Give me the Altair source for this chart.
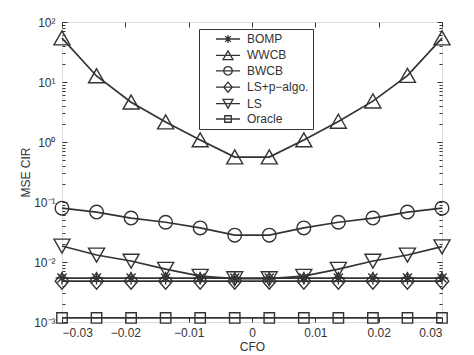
import altair as alt
import pandas as pd

series = ["BOMP", "WWCB", "BWCB", "LS+p−algo.", "LS", "Oracle"]
cfo = [-0.03, -0.024545, -0.019091, -0.013636, -0.008182, -0.002727,
       0.002727, 0.008182, 0.013636, 0.019091, 0.024545, 0.03]
bomp = [0.0054] * 12
wwcb = [54, 12.6, 4.6, 2.15, 1.08, 0.56, 0.56, 1.08, 2.2, 4.8, 12.8, 54]
bwcb = [0.079, 0.068, 0.054, 0.046, 0.037, 0.028, 0.028, 0.037, 0.046, 0.054, 0.068, 0.079]
lsp = [0.0048] * 12
ls = [0.0185, 0.0131, 0.0104, 0.0076, 0.0058, 0.0053, 0.0053, 0.0058, 0.0076, 0.0104, 0.0131, 0.018]
oracle = [0.00117] * 12

y_major = [1e-3, 1e-2, 1e-1, 1e0, 1e1, 1e2]
y_minor = [m * 10.0 ** e for e in range(-3, 2) for m in range(2, 10)]
x_ticks = [-0.03, -0.02, -0.01, 0, 0.01, 0.02, 0.03]

rows = []
for name, vals in zip(series, [bomp, wwcb, bwcb, lsp, ls, oracle]):
    for xv, yv in zip(cfo, vals):
        rows.append({"series": name, "cfo": xv, "mse": yv})
df = pd.DataFrame(rows)

INK = "#333333"
FONT = "Liberation Sans"

marker_paths = [
    "M-0.8,0H0.8M0,-0.8V0.8M-0.57,-0.57L0.57,0.57M-0.57,0.57L0.57,-0.57",  # star
    "M0,-0.9L1,0.85L-1,0.85Z",  # triangle up
    "M-0.85,0A0.85,0.85 0 1,0 0.85,0A0.85,0.85 0 1,0 -0.85,0",  # circle
    "M0,-1L0.85,0L0,1L-0.85,0Z",  # diamond
    "M0,0.9L1,-0.85L-1,-0.85Z",  # triangle down
    "M-0.65,-0.65H0.65V0.65H-0.65Z",  # square
]
legend_paths = ["M-2.4,0H2.4" + p for p in marker_paths]

xs = alt.Scale(domain=[-0.03, 0.03], nice=False, zero=False)
ys = alt.Scale(type="log", domain=[1e-3, 1e2], nice=False)

xlab = "datum.value == 0 ? '0' : format(datum.value, '.2f')"
ylab = ("{'-3':'10⁻³','-2':'10⁻²','-1':'10⁻¹','0':'10⁰','1':'10¹','2':'10²'}"
        "['' + round(log(datum.value)/LN10)]")

base = alt.Chart(df)

lines = base.mark_line(color=INK, strokeWidth=1.7).encode(
    x=alt.X("cfo:Q", scale=xs, axis=alt.Axis(
        values=x_ticks, labelExpr=xlab, title="CFO", offset=-5, tickSize=5,
        domain=False, grid=False, tickColor=INK, labelColor=INK, titleColor=INK,
        labelFont=FONT, titleFont=FONT, labelFontSize=12, titleFontSize=12,
        titleFontWeight="normal", labelPadding=5, titlePadding=3)),
    y=alt.Y("mse:Q", scale=ys, axis=alt.Axis(
        values=y_major, labelExpr=ylab, title="MSE CIR", offset=-5, tickSize=5,
        domain=False, grid=False, tickColor=INK, labelColor=INK, titleColor=INK,
        labelFont=FONT, titleFont=FONT, labelFontSize=12, titleFontSize=12,
        titleFontWeight="normal", labelPadding=7, titlePadding=1)),
    detail="series:N",
)

points = base.mark_point(filled=False, size=256, strokeWidth=1.4, color=INK, opacity=1).encode(
    x=alt.X("cfo:Q", scale=xs, axis=None),
    y=alt.Y("mse:Q", scale=ys, axis=None),
    shape=alt.Shape("series:N", scale=alt.Scale(domain=series, range=marker_paths), legend=None),
)

leg = base.mark_point(filled=False, size=256, strokeWidth=1.3, color=INK, opacity=0).encode(
    x=alt.X("cfo:Q", scale=xs, axis=None),
    y=alt.Y("mse:Q", scale=ys, axis=None),
    shape=alt.Shape("series:N", scale=alt.Scale(domain=series, range=legend_paths),
                    legend=alt.Legend(title=None, orient="none", legendX=137, legendY=7,
                                      symbolOpacity=1, symbolStrokeColor=INK,
                                      symbolStrokeWidth=1.3, symbolFillColor="transparent",
                                      symbolOffset=19, labelOffset=13,
                                      labelFont=FONT, labelFontSize=12, labelColor=INK,
                                      strokeColor=INK, fillColor="white", padding=4,
                                      rowPadding=1.4)),
)

def ax_layer(xaxis, yaxis):
    return base.mark_point(opacity=0).encode(
        x=alt.X("cfo:Q", scale=xs, axis=xaxis),
        y=alt.Y("mse:Q", scale=ys, axis=yaxis),
    )

tick_common = dict(labels=False, title=None, domain=False, grid=False, tickColor=INK)

ax1 = ax_layer(
    alt.Axis(orient="top", values=x_ticks, offset=-5, tickSize=5, **tick_common),
    alt.Axis(orient="left", values=y_minor, offset=-3, tickSize=3, **tick_common),
)
ax2 = ax_layer(None, alt.Axis(orient="right", values=y_major, offset=-5, tickSize=5, **tick_common))
ax3 = ax_layer(None, alt.Axis(orient="right", values=y_minor, offset=-3, tickSize=3, **tick_common))

chart = alt.layer(lines, points, leg, ax1, ax2, ax3).resolve_scale(
    shape="independent"
).resolve_axis(x="independent", y="independent").properties(
    width=380, height=300,
    autosize=alt.AutoSizeParams(type="none"),
    padding={"left": 54, "top": 14, "right": 24, "bottom": 32},
).configure_view(stroke=INK, strokeWidth=1).configure(background="white")

chart.save("out.html", embed_options={"renderer": "svg", "actions": False})
